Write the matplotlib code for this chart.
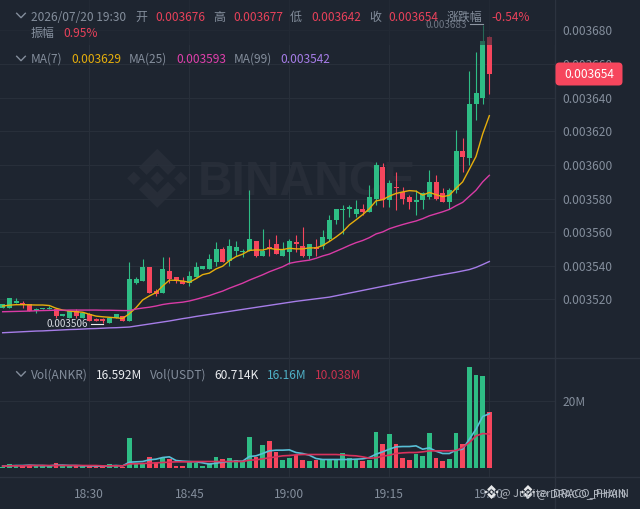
import matplotlib
matplotlib.use("Agg")
import matplotlib.pyplot as plt
from matplotlib.patches import Polygon, Rectangle, FancyBboxPatch

plt.rcParams['font.family'] = ['Noto Sans CJK SC', 'DejaVu Sans']

# prices in millionths (0.003676 -> 3676)
opens = [3515,3515,3518,3518,3517,3513,3514,3514,3514,3510,3509,3513,3509,3511,3508,3508,3506,3509,3510,3507,
         3530,3531,3539,3525,3524,3537,3533,3531,3530,3533,3538,3538,3542,3550,3543,3549,3548,3549,3555,3546,
         3551,3553,3546,3548,3554,3552,3546,3551,3552,3556,3567,3573,3574,3571,3574,3572,3580,3599,3579,3587,
         3584,3581,3578,3579,3581,3590,3583,3578,3585,3608,3604,3636,3640,3676]
highs = [3517,3521,3521,3519,3517,3515,3515,3516,3514,3511,3513,3514,3512,3512,3509,3509,3509,3511,3510,3542,
         3533,3544,3539,3526,3545,3545,3533,3533,3537,3542,3540,3547,3554,3551,3556,3555,3550,3585,3555,3562,
         3556,3558,3554,3556,3558,3563,3553,3556,3561,3570,3574,3576,3576,3579,3577,3588,3602,3601,3591,3596,
         3587,3582,3585,3584,3597,3594,3586,3586,3621,3616,3656,3667,3683,3677]
lows = [3515,3515,3518,3515,3513,3512,3514,3514,3509,3510,3509,3509,3509,3507,3507,3506,3506,3509,3507,3507,
        3529,3531,3524,3522,3524,3530,3530,3529,3528,3533,3538,3538,3540,3542,3540,3546,3545,3549,3545,3546,
        3546,3547,3546,3541,3548,3545,3544,3546,3550,3555,3565,3559,3569,3569,3570,3572,3576,3575,3575,3573,
        3577,3574,3570,3574,3580,3579,3578,3574,3583,3596,3600,3627,3636,3642]
closes = [3517,3521,3519,3517,3513,3514,3515,3515,3510,3511,3513,3510,3512,3507,3507,3507,3509,3511,3507,3532,
          3532,3539,3524,3523,3538,3532,3531,3529,3534,3539,3540,3544,3550,3542,3552,3551,3549,3556,3546,3549,
          3550,3547,3550,3555,3553,3546,3553,3550,3557,3567,3574,3574,3575,3574,3572,3581,3600,3579,3589,3586,
          3580,3578,3579,3583,3590,3580,3578,3585,3608,3605,3636,3643,3674,3654]
ma7 = [3516,3516.5,3516.8,3516.8,3516.7,3516.6,3516.6,3516.3,3514.7,3513.6,3513,3512.6,3512.3,3511.1,3510,3509.6,
       3509.3,3509,3508.6,3511.4,3515,3519.6,3522,3524,3527.9,3531.4,3531.3,3530.9,3530.1,3532.3,3534.7,3535.6,
       3538.1,3539.7,3543,3545.4,3546.9,3549.1,3549.4,3549.3,3550.4,3549.7,3549.6,3550.4,3550,3550,3550.6,3550.6,
       3552,3554.4,3557.1,3560.1,3564.3,3567.3,3570.4,3573.9,3578.6,3579.3,3581.4,3583,3583.9,3584.7,3584.4,3582,
       3583.6,3582.3,3581.1,3581.9,3586.1,3589.9,3597.4,3605,3618.4,3629.3]
ma25 = [3512.6,3512.7,3512.8,3512.9,3513,3513.2,3513.3,3513.4,3513.5,3513.5,3513.6,3513.6,3513.6,3513.6,3513.6,
        3513.5,3513.5,3513.4,3513.3,3513.3,3514.2,3514.8,3515.3,3516,3516.9,3517.5,3517.9,3518.3,3519,3520,3521.1,
        3522.2,3523.6,3524.9,3526.6,3528.1,3529.6,3531.4,3533,3534.6,3536.4,3537.9,3539.4,3541.4,3542.2,3542.8,
        3543.3,3544.4,3545.8,3546.9,3548.6,3550.3,3552.1,3553.7,3555,3556.7,3558.9,3560.1,3562,3563.3,3564.5,
        3565.6,3566.6,3568,3569.7,3570.9,3572.1,3573.5,3575.7,3577.7,3581.3,3584.9,3589.9,3593.8]
ma99 = [3500.1,3500.3,3500.5,3500.7,3500.9,3501.1,3501.2,3501.4,3501.6,3501.8,3502,3502.1,3502.3,3502.5,3502.6,
        3502.8,3503,3503.1,3503.3,3503.5,3504.1,3504.7,3505.3,3505.9,3506.5,3507.1,3507.8,3508.5,3509.1,3509.8,
        3510.4,3511,3511.6,3512.2,3512.8,3513.4,3514,3514.6,3515.2,3515.8,3516.4,3517,3517.6,3518.2,3518.8,3519.3,
        3519.8,3520.3,3520.8,3521.3,3522.1,3522.9,3523.7,3524.5,3525.3,3526.1,3526.9,3527.7,3528.5,3529.3,3530.1,
        3530.9,3531.6,3532.4,3533.2,3534,3534.7,3535.4,3536.1,3536.9,3537.7,3539,3540.7,3542.5]
# volume in millions
volume = [.3,1.1,.6,.5,.9,.5,.4,.5,1.4,.4,.5,.5,.4,.4,.3,.3,1.0,.8,.3,8.9,1.0,1.1,3.2,1.5,3.0,2.5,.5,.5,1.8,1.3,
          .5,1.5,3.1,2.5,2.9,2.2,2.1,9.3,3.2,6.9,7.9,4.7,2.2,2.8,3.7,2.2,1.9,2.4,2.4,2.4,2.4,4.5,3,2.7,2,2.4,
          10.8,7.2,10.2,7.2,3,2.3,4.2,3.4,10.3,3,1.9,2.5,10.5,7.2,30.1,27.8,27.6,16.592]
vol_ma_a = [.4,.5,.6,.6,.7,.6,.6,.5,.7,.7,.6,.6,.5,.5,.4,.4,.5,.6,.5,1.6,1.7,1.8,2.3,2.5,3,3.2,2.1,1.9,1.8,1.7,1.4,
            1,1.3,1.6,1.8,1.9,1.9,3.3,3.5,4.2,5,5.2,5.2,5.3,4.5,4.2,3.7,2.7,2.4,2.4,2.4,2.4,2.4,2.5,2.6,3,4,4.7,
            5.5,6.2,6.3,6.3,6.5,5.5,5.9,4.9,4.2,4.2,5.2,5.5,8.5,11.5,15.3,16.16]
vol_ma_b = [.4,.5,.5,.5,.6,.6,.6,.6,.6,.6,.6,.6,.6,.6,.6,.5,.5,.5,.5,1.1,1.1,1.2,1.3,1.4,1.5,1.6,1.7,1.7,1.7,1.8,1.8,
            1.8,1.8,1.8,1.8,1.8,1.8,2.2,2.3,2.6,2.9,3.2,3.5,3.6,3.8,3.9,3.9,3.9,3.9,3.9,3.9,3.8,3.6,3.5,3.2,2.8,
            2.9,3.4,3.7,4.2,4.4,4.5,4.5,4.7,5,5,5,5,5.1,6,7.5,9.5,10.2,10.038]
time_labels = ["18:30", "18:45", "19:00", "19:15", "19:30"]
time_idx = [13, 28, 43, 58, 73]
price_ticks = [3520, 3540, 3560, 3580, 3600, 3620, 3640, 3660, 3680]
vol_ticks = [20]

BG = '#1e2530'
GRID = '#282f3a'
SEP = '#2c333f'
GREEN = '#2ebd85'
RED = '#f6465d'
GREY = '#848e9c'
W, H = 640, 509

fig = plt.figure(figsize=(6.4, 5.09), dpi=100, facecolor=BG)


def rect_px(x0, y0, x1, y1):
    return [x0 / W, 1 - y1 / H, (x1 - x0) / W, (y1 - y0) / H]


def pixel_axes(z):
    a = fig.add_axes([0, 0, 1, 1], zorder=z)
    a.set_xlim(0, W)
    a.set_ylim(H, 0)
    a.axis('off')
    a.patch.set_alpha(0)
    return a


def logo(a, cx, cy, s, color, z=1):
    top = [(0, -88), (55, -33), (32, -10), (0, -42), (-32, -10), (-55, -33)]
    for sign in (1, -1):
        a.add_patch(Polygon([(cx + px * s / 88, cy + sign * py * s / 88) for px, py in top],
                            closed=True, fc=color, ec='none', zorder=z))
    for off in (-70, 0, 70):
        a.add_patch(Polygon([(cx + (off + dx) * s / 88, cy + dy * s / 88)
                             for dx, dy in [(0, -20), (20, 0), (0, 20), (-20, 0)]],
                            closed=True, fc=color, ec='none', zorder=z))


# background layer: watermark and separators
bg = pixel_axes(0)
logo(bg, 157.3, 178.3, 29.5, '#272d38')
bg.text(198, 195, "BINANCE", fontsize=34.5, fontweight='bold', color='#272d38', ha='left', va='baseline',
        family='Liberation Sans')
for yy in (358, 477):
    bg.plot([0, W], [yy, yy], color=SEP, lw=1.0, zorder=2)
bg.plot([555, 555], [0, H], color=SEP, lw=1.0, zorder=2)

xlim = (-0.4, 82.85)

# price pane
ax = fig.add_axes(rect_px(0, 0, 555, 358), zorder=1)
ax.patch.set_alpha(0)
n = range(len(closes))
up = [c >= o for o, c in zip(opens, closes)]
cols = [GREEN if u else RED for u in up]
ax.vlines(list(n), lows, highs, colors=cols, lw=0.8, zorder=3)
ax.bar(list(n), [max(abs(c - o), 0.5) for o, c in zip(opens, closes)],
       bottom=[min(o, c) for o, c in zip(opens, closes)], width=0.75, color=cols, zorder=3, lw=0)
ax.plot(list(n), ma7, color='#e6ae0c', lw=1.0, zorder=4)
ax.plot(list(n), ma25, color='#d93ba6', lw=1.0, zorder=4)
ax.plot(list(n), ma99, color='#a67de8', lw=1.0, zorder=4)
ax.set_xlim(*xlim)
ax.set_ylim(3698.15 - 0.5952 * 358, 3698.15)
ax.set_yticks(price_ticks)
ax.set_yticklabels([f"0.00{p}" for p in price_ticks])
ax.yaxis.tick_right()
ax.set_xticks(time_idx)
ax.tick_params(axis='x', length=0, labelbottom=False)
ax.tick_params(axis='y', length=0, pad=5.5, labelsize=8.6, labelcolor=GREY)
ax.grid(True, color=GRID, lw=0.75, zorder=1)
ax.set_axisbelow(True)
for s in ax.spines.values():
    s.set_visible(False)

# volume pane
vx = fig.add_axes(rect_px(0, 358, 555, 477), zorder=1)
vx.patch.set_alpha(0)
vx.bar(list(n), volume, width=0.68, color=cols, lw=0, zorder=3)
vx.plot(list(n), vol_ma_a, color='#58bfd6', lw=1.2, zorder=4)
vx.plot(list(n), vol_ma_b, color='#d8325c', lw=1.2, zorder=5)
vx.set_xlim(*xlim)
vx.set_ylim(-(477 - 467.5) / 3.33, (467.5 - 358) / 3.33)
vx.set_yticks(vol_ticks)
vx.set_yticklabels([f"{v}M" for v in vol_ticks])
vx.yaxis.tick_right()
vx.set_xticks(time_idx)
vx.set_xticklabels(time_labels)
vx.tick_params(axis='x', length=0, pad=8.2, labelsize=8.6, labelcolor=GREY)
vx.tick_params(axis='y', length=0, pad=5.5, labelsize=8.6, labelcolor=GREY)
vx.grid(True, color=GRID, lw=0.75, zorder=1)
vx.set_axisbelow(True)
for s in vx.spines.values():
    s.set_visible(False)

# overlay: legends, price tag, annotations
ov = pixel_axes(3)
ov.add_patch(Rectangle((0, 0), 555, 45, fc=BG, ec='none', alpha=0.55, zorder=1))
FS = 8.6


def t(x, y, s, c=GREY, **kw):
    kw.setdefault('fontsize', FS)
    ov.text(x, y, s, color=c, ha=kw.pop('ha', 'left'), va=kw.pop('va', 'baseline'), zorder=3, **kw)


for cy in (15.5, 58.5, 374):
    ov.plot([16.7, 21, 25.3], [cy - 2.2, cy + 2.2, cy - 2.2], color=GREY, lw=1.0, zorder=3)

R = '#e8415a'
t(31, 20.5, "2026/07/20 19:30")
t(135, 20.5, "开"); t(155, 20.5, "0.003676", R)
t(213, 20.5, "高"); t(233, 20.5, "0.003677", R)
t(290, 20.5, "低"); t(311, 20.5, "0.003642", R)
t(369, 20.5, "收"); t(388.6, 20.5, "0.003654", R)
t(447, 20.5, "涨跌幅"); t(491, 20.5, "-0.54%", R)
t(31, 37, "振幅"); t(63, 37, "0.95%", R)
t(31, 62.7, "MA(7)"); t(71, 62.7, "0.003629", '#e6ae0c')
t(129, 62.7, "MA(25)"); t(176, 62.7, "0.003593", '#e040ac')
t(234, 62.7, "MA(99)"); t(280, 62.7, "0.003542", '#a67de8')
t(31, 379, "Vol(ANKR)"); t(96, 379, "16.592M", '#eaecef')
t(150, 379, "Vol(USDT)"); t(214, 379, "60.714K", '#eaecef')
t(267, 379, "16.16M", '#4fb0c6'); t(315, 379, "10.038M", '#c9324f')

# extreme labels
ov.text(467, 25, "0.003683", color='#6d7582', fontsize=7.2, ha='right', va='center', zorder=2)
ov.plot([470, 483], [24, 24], color='#8d95a1', lw=0.8, zorder=2)
ov.text(88, 324, "0.003506", color='#d5d9df', fontsize=7.2, ha='right', va='center', zorder=3)
ov.plot([91, 103], [324, 324], color='#eaecef', lw=0.8, zorder=3)

# last-price tag
ov.add_patch(FancyBboxPatch((559, 66), 60, 16, boxstyle="round,pad=3.5,rounding_size=4", fc=RED, ec='none',
                            zorder=2))
ov.text(589, 74, "0.003654", color='#ffffff', fontsize=FS, ha='center', va='center', zorder=3)

# footer credits
logo(ov, 491.5, 492, 7, '#e6e8ea', z=3)
logo(ov, 528, 492, 7, '#e6e8ea', z=3)
t(500, 497, "@ Jupiter DRACO_PHAIN", '#b0b6bf', fontsize=8.0)
t(537, 497, "@ DRACO_PHAIN", '#b0b6bf', fontsize=8.0)

fig.savefig("out.png", dpi=100, facecolor=BG)
